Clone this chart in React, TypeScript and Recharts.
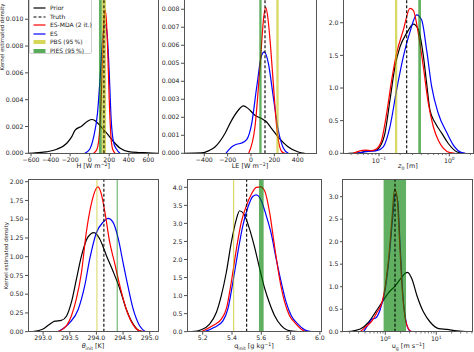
import { LineChart, Line, XAxis, YAxis, ReferenceArea, ReferenceLine } from 'recharts'

type XY = [number, number]
type Part = { t: string; sup?: boolean; sub?: boolean; it?: boolean }

// ---- H [W m-2]
const H_PRIOR: XY[] = [[-640, 0], [-576, 0.00002], [-450, 0.0001], [-336, 0.0003], [-234, 0.00075], [-183, 0.00124], [-149, 0.00172], [-80, 0.00204], [-29, 0.00236], [20, 0.00252], [56, 0.00243], [108, 0.00204], [176, 0.00149], [244, 0.00087], [313, 0.00037], [398, 0.00012], [500, 0.00006], [597, 0.00004], [700, 0]]
const H_MDA: XY[] = [[40, 0], [75, 0.0003], [105, 0.002], [125, 0.0055], [140, 0.009], [158, 0.0107], [172, 0.0098], [185, 0.0075], [200, 0.004], [215, 0.0015], [235, 0.0003], [260, 0]]
const H_ES: XY[] = [[-50, 0], [0, 0.0003], [40, 0.0012], [80, 0.003], [110, 0.006], [135, 0.0088], [160, 0.0096], [180, 0.0088], [200, 0.006], [220, 0.0025], [245, 0.0008], [275, 0.0003], [310, 0]]

// ---- LE [W m-2]
const LE_PRIOR: XY[] = [[-574, 0], [-423, 0.00002], [-360, 0.00015], [-309, 0.00035], [-223, 0.0011], [-166, 0.00183], [-109, 0.00239], [-66, 0.00263], [-23, 0.00248], [34, 0.00211], [91, 0.00193], [134, 0.00174], [177, 0.00137], [234, 0.0009], [320, 0.00035], [405, 0.00007], [460, 0]]
const LE_MDA: XY[] = [[-20, 0], [34, 0.00146], [77, 0.0048], [110, 0.0076], [126, 0.0081], [145, 0.0075], [163, 0.0063], [191, 0.0039], [220, 0.00146], [263, 0.0001], [290, 0]]
const LE_ES: XY[] = [[-215, 0], [-166, 0.00035], [-123, 0.0005], [-80, 0.00057], [-37, 0.00076], [6, 0.00165], [49, 0.00368], [91, 0.00544], [114, 0.00563], [149, 0.005], [191, 0.00313], [234, 0.00128], [277, 0.0003], [320, 0]]

// ---- z0 [m]
const Z0_PRIOR: XY[] = [[0.0366, 0], [0.0537, 0.005], [0.0668, 0.04], [0.0877, 0.04], [0.103, 0.1], [0.1216, 0.31], [0.1434, 0.82], [0.169, 1.33], [0.199, 1.63], [0.2477, 1.84], [0.3078, 1.98], [0.362, 1.9], [0.4266, 1.5], [0.476, 1.07], [0.531, 0.66], [0.626, 0.47], [0.78, 0.31], [0.968, 0.15], [1.27, 0.025], [1.58, 0]]
const Z0_MDA: XY[] = [[0.043, 0], [0.063, 0.05], [0.0787, 0.04], [0.0927, 0.07], [0.109, 0.2], [0.1285, 0.61], [0.1513, 1.12], [0.178, 1.53], [0.222, 1.89], [0.276, 2.22], [0.3078, 2.19], [0.362, 1.84], [0.4266, 1.33], [0.5025, 0.77], [0.591, 0.41], [0.697, 0.2], [0.82, 0.08], [1.02, 0.01], [1.2, 0]]
const Z0_ES: XY[] = [[0.048, 0], [0.0705, 0.03], [0.0927, 0.04], [0.115, 0.1], [0.1434, 0.41], [0.178, 0.97], [0.222, 1.48], [0.276, 1.86], [0.3433, 2.12], [0.4045, 2.04], [0.4764, 1.58], [0.5615, 1.02], [0.697, 0.61], [0.927, 0.31], [1.135, 0.13], [1.5, 0.01], [1.7, 0]]

// ---- theta_init [K]
const TH_PRIOR: XY[] = [[292.81, 0], [293.0, 0.035], [293.125, 0.1], [293.22, 0.14], [293.34, 0.15], [293.44, 0.21], [293.53, 0.39], [293.625, 0.7], [293.72, 1.01], [293.84, 1.26], [293.955, 1.32], [294.06, 1.24], [294.19, 1.01], [294.31, 0.81], [294.44, 0.57], [294.56, 0.3], [294.69, 0.1], [294.81, 0.01], [294.9, 0]]
const TH_MDA: XY[] = [[293.28, 0], [293.44, 0.08], [293.53, 0.21], [293.625, 0.44], [293.72, 0.79], [293.81, 1.32], [293.91, 1.72], [294.03, 1.93], [294.09, 1.84], [294.16, 1.59], [294.25, 1.19], [294.34, 0.92], [294.44, 0.61], [294.56, 0.3], [294.69, 0.09], [294.81, 0.01], [294.9, 0]]
const TH_ES: XY[] = [[293.28, 0], [293.5, 0.12], [293.66, 0.3], [293.78, 0.61], [293.875, 0.97], [294.0, 1.32], [294.125, 1.46], [294.22, 1.51], [294.31, 1.46], [294.41, 1.24], [294.5, 0.92], [294.59, 0.61], [294.69, 0.3], [294.81, 0.08], [294.92, 0]]

// ---- q_init [g kg-1]
const Q_PRIOR: XY[] = [[5.125, 0], [5.19, 0.055], [5.247, 0.21], [5.293, 0.53], [5.327, 1.0], [5.361, 1.64], [5.395, 2.47], [5.43, 3.12], [5.452, 3.35], [5.481, 3.26], [5.52, 2.84], [5.554, 2.34], [5.588, 1.76], [5.623, 1.2], [5.657, 0.78], [5.69, 0.45], [5.736, 0.17], [5.78, 0.04], [5.85, 0]]
const Q_MDA: XY[] = [[5.19, 0], [5.27, 0.17], [5.327, 0.35], [5.361, 0.63], [5.395, 1.37], [5.43, 2.29], [5.463, 3.03], [5.498, 3.49], [5.532, 3.81], [5.566, 4.0], [5.595, 4.01], [5.623, 3.9], [5.657, 3.3], [5.69, 2.38], [5.725, 1.46], [5.76, 0.81], [5.793, 0.44], [5.827, 0.26], [5.873, 0.07], [5.9, 0]]
const Q_ES: XY[] = [[5.213, 0], [5.28, 0.12], [5.338, 0.3], [5.372, 0.63], [5.406, 1.37], [5.44, 2.2], [5.474, 2.94], [5.508, 3.44], [5.543, 3.75], [5.566, 3.79], [5.6, 3.63], [5.634, 3.21], [5.668, 2.71], [5.702, 2.01], [5.736, 1.37], [5.77, 0.81], [5.805, 0.44], [5.85, 0.21], [5.896, 0.05], [5.94, 0]]

// ---- u_g [m s-1]
const UG_PRIOR: XY[] = [[0.1775, 0], [0.323, 0.06], [0.471, 0.21], [0.637, 0.43], [0.861, 0.65], [1.16, 0.87], [1.57, 1.02], [1.97, 1.17], [2.47, 1.3], [2.74, 1.32], [3.33, 1.17], [4.18, 0.8], [5.65, 0.43], [7.63, 0.21], [11.1, 0.07], [16.2, 0.05], [25.4, 0.02], [46, 0]]
const UG_MDA: XY[] = [[0.323, 0], [0.405, 0.1], [0.548, 0.24], [0.687, 0.43], [0.861, 0.65], [1.0, 1.02], [1.16, 1.62], [1.35, 2.5], [1.52, 3.17], [1.69, 3.02], [1.91, 1.98], [2.12, 1.02], [2.47, 0.28], [2.86, 0.06], [3.33, 0]]
const UG_ES: XY[] = [[0.376, 0], [0.471, 0.17], [0.548, 0.28], [0.637, 0.3], [0.798, 0.5], [1.0, 0.95], [1.2, 1.69], [1.39, 2.5], [1.57, 3.06], [1.75, 2.91], [1.97, 1.84], [2.22, 0.8], [2.58, 0.2], [3.0, 0.02], [3.3, 0]]

// truth value, PBS (95 %) and PIES (95 %) intervals per panel
const TRUTH = { H: 146, LE: 120, Z0: 0.2477, TH: 294.14, Q: 5.5, UG: 1.55 }
const PBS: Record<string, [number, number]> = { H: [123, 167], LE: [217, 237], Z0: [0.169, 0.182], TH: [294.0, 294.02], Q: [5.407, 5.415] }
const PIES: Record<string, [number, number]> = { H: [95, 123], LE: [71, 91], Z0: [0.362, 0.395], TH: [294.38, 294.4], Q: [5.584, 5.616], UG: [0.926, 2.55] }

const H_TICKS = [-600, -400, -200, 0, 200, 400, 600]
const LE_TICKS = [-400, -200, 0, 200, 400]
const Z0_TICKS = [0.04, 0.05, 0.06, 0.07, 0.08, 0.09, 0.1, 0.2, 0.3, 0.4, 0.5, 0.6, 0.7, 0.8, 0.9, 1, 2]
const TH_TICKS = [293.0, 293.5, 294.0, 294.5, 295.0]
const Q_TICKS = [5.2, 5.4, 5.6, 5.8, 6.0]
const UG_TICKS = [0.2, 0.3, 0.4, 0.5, 0.6, 0.7, 0.8, 0.9, 1, 2, 3, 4, 5, 6, 7, 8, 9, 10, 20, 30, 40, 50]

const FONT = 'DejaVu Sans, sans-serif'
const INK = '#222'
const FS = 6.2
const YEL = '#bfbf00'
const GRN = '#008000'
const YW = 34
const MT = 4
const MR = 16
const XH = 26

const toPts = (a: XY[]) => a.map(([x, y]) => ({ x, y }))
const minus = (v: number) => String(v).replace('-', '\u2212')

function Rich({ parts, x, y, size = 6.5, rotate }: { parts: Part[]; x: number; y: number; size?: number; rotate?: boolean }) {
  let shift = 0
  const spans = parts.map((p, i) => {
    const target = p.sup ? -size * 0.4 : p.sub ? size * 0.25 : 0
    const el = (
      <tspan key={i} dy={target - shift} fontSize={p.sup || p.sub ? size * 0.72 : size} fontStyle={p.it ? 'italic' : undefined}>
        {p.t}
      </tspan>
    )
    shift = target
    return el
  })
  return (
    <text x={x} y={y} textAnchor="middle" fill={INK} fontFamily={FONT} fontSize={size} transform={rotate ? `rotate(-90 ${x} ${y})` : undefined}>
      {spans}
    </text>
  )
}

function LogTick(props: any) {
  const { x, y, payload } = props
  const lg = Math.log10(payload.value)
  const e = Math.round(lg)
  const major = Math.abs(lg - e) < 1e-9
  return (
    <g>
      <line x1={x} x2={x} y1={y} y2={y + (major ? 3 : 1.8)} stroke={INK} strokeWidth={major ? 0.8 : 0.6} />
      {major && (
        <text x={x} y={y + 9.5} textAnchor="middle" fontSize={FS} fill={INK} fontFamily={FONT}>
          10
          <tspan dy={-2.6} fontSize={FS * 0.72}>{e < 0 ? `\u2212${-e}` : `${e}`}</tspan>
        </text>
      )}
    </g>
  )
}

type PanelProps = {
  box: [number, number, number, number]
  xDomain: [number, number]
  yDomain: [number, number]
  xTicks: number[]
  yTicks: number[]
  xFmt?: (v: number) => string
  yFmt: (v: number) => string
  log?: boolean
  prior: XY[]
  mda: XY[]
  es: XY[]
  truth: number
  pbs?: [number, number]
  pies?: [number, number]
  title: Part[]
  titleDy: number
  ylabel?: [number, number]
}

function Panel(p: PanelProps) {
  const [L, R, T, B] = p.box
  const w = R - L
  const h = B - T
  const W = YW + w + MR
  const H = MT + h + XH
  const ox = L - YW
  const oy = T - MT
  return (
    <div style={{ position: 'absolute', left: ox, top: oy, width: W, height: H }}>
      <LineChart width={W} height={H} margin={{ top: MT, right: MR, left: 0, bottom: 0 }}>
        <XAxis
          type="number"
          dataKey="x"
          domain={p.xDomain}
          allowDataOverflow
          scale={p.log ? 'log' : 'linear'}
          ticks={p.xTicks}
          interval={0}
          height={XH}
          axisLine={false}
          tick={p.log ? <LogTick /> : { fontSize: FS, fill: INK, fontFamily: FONT }}
          tickLine={p.log ? false : { stroke: INK, strokeWidth: 0.8 }}
          tickSize={p.log ? 0 : 3}
          tickMargin={p.log ? 0 : 1}
          tickFormatter={p.xFmt}
          label={() => <Rich parts={p.title} x={YW + w / 2} y={MT + h + p.titleDy} />}
        />
        <YAxis
          type="number"
          domain={p.yDomain}
          allowDataOverflow
          ticks={p.yTicks}
          interval={0}
          width={YW}
          axisLine={false}
          tick={{ fontSize: FS, fill: INK, fontFamily: FONT }}
          tickLine={{ stroke: INK, strokeWidth: 0.8 }}
          tickSize={3}
          tickMargin={1.5}
          tickFormatter={p.yFmt}
          label={
            p.ylabel
              ? () => <Rich parts={[{ t: 'Kernel estimated density' }]} x={p.ylabel![0] - ox} y={p.ylabel![1] - oy} size={5.4} rotate />
              : undefined
          }
        />
        <Line data={toPts(p.prior)} dataKey="y" type="monotone" stroke="#000" strokeWidth={1.2} dot={false} activeDot={false} isAnimationActive={false} />
        <Line data={toPts(p.es)} dataKey="y" type="monotone" stroke="#0000ff" strokeWidth={1.2} dot={false} activeDot={false} isAnimationActive={false} />
        <Line data={toPts(p.mda)} dataKey="y" type="monotone" stroke="#ff0000" strokeWidth={1.2} dot={false} activeDot={false} isAnimationActive={false} />
        {p.pbs && <ReferenceArea x1={p.pbs[0]} x2={p.pbs[1]} fill={YEL} fillOpacity={0.6} stroke="none" zIndex={450} />}
        {p.pies && <ReferenceArea x1={p.pies[0]} x2={p.pies[1]} fill={GRN} fillOpacity={0.62} stroke="none" zIndex={450} />}
        <ReferenceLine x={p.truth} stroke="#000" strokeWidth={1.1} strokeDasharray="3 2" zIndex={500} />
      </LineChart>
      <div
        style={{
          position: 'absolute',
          left: YW - 0.5,
          top: MT - 0.5,
          width: w + 1,
          height: h + 1,
          border: '1px solid #555',
          boxSizing: 'border-box',
          pointerEvents: 'none',
        }}
      />
    </div>
  )
}

const LEGEND = [
  { name: 'Prior', color: '#000', dash: undefined as string | undefined, sw: 1.2 },
  { name: 'Truth', color: '#000', dash: '3 2', sw: 1.2 },
  { name: 'ES-MDA (2 it.)', color: '#ff0000', dash: undefined, sw: 1.2 },
  { name: 'ES', color: '#0000ff', dash: undefined, sw: 1.2 },
  { name: 'PBS (95\u2009%)', color: '#d6d659', dash: undefined, sw: 4 },
  { name: 'PIES (95\u2009%)', color: '#59ac59', dash: undefined, sw: 4 },
]

const f3 = (v: number) => v.toFixed(3)
const f2 = (v: number) => v.toFixed(2)
const f1 = (v: number) => v.toFixed(1)

export default function App() {
  const top = -3
  const bot = 153.3
  const top2 = 179.3
  const bot2 = 332
  return (
    <div style={{ position: 'absolute', left: 0, top: 0, width: 474, height: 352, background: '#fff', overflow: 'hidden', fontFamily: FONT }}>
      <Panel box={[28, 158.5, top, bot]} xDomain={[-631, 704]} yDomain={[0, 0.01166]} xTicks={H_TICKS} yTicks={[0, 0.002, 0.004, 0.006, 0.008, 0.01]} xFmt={minus} yFmt={f3}
        prior={H_PRIOR} mda={H_MDA} es={H_ES} truth={TRUTH.H} pbs={PBS.H} pies={PIES.H}
        title={[{ t: 'H [W m' }, { t: '\u22122', sup: true }, { t: ']' }]} titleDy={15} ylabel={[3.8, 37]} />
      <Panel box={[184, 316, top, bot]} xDomain={[-574, 557]} yDomain={[0, 0.00868]} xTicks={LE_TICKS} yTicks={[0, 0.001, 0.002, 0.003, 0.004, 0.005, 0.006, 0.007, 0.008]} xFmt={minus} yFmt={f3}
        prior={LE_PRIOR} mda={LE_MDA} es={LE_ES} truth={TRUTH.LE} pbs={PBS.LE} pies={PIES.LE}
        title={[{ t: 'LE [W m' }, { t: '\u22122', sup: true }, { t: ']' }]} titleDy={15} />
      <Panel box={[343, 473, top, bot]} xDomain={[0.03076, 2.173]} yDomain={[0, 2.394]} xTicks={Z0_TICKS} yTicks={[0, 0.5, 1, 1.5, 2]} yFmt={f1} log
        prior={Z0_PRIOR} mda={Z0_MDA} es={Z0_ES} truth={TRUTH.Z0} pbs={PBS.Z0} pies={PIES.Z0}
        title={[{ t: 'z', it: true }, { t: '0', sub: true }, { t: ' [m]' }]} titleDy={15} />
      <Panel box={[28.3, 158.3, top2, bot2]} xDomain={[292.717, 295.155]} yDomain={[0, 2.036]} xTicks={TH_TICKS} yTicks={[0, 0.25, 0.5, 0.75, 1, 1.25, 1.5, 1.75, 2]} xFmt={f1} yFmt={f2}
        prior={TH_PRIOR} mda={TH_MDA} es={TH_ES} truth={TRUTH.TH} pbs={PBS.TH} pies={PIES.TH}
        title={[{ t: '\u03b8', it: true }, { t: 'init', sub: true }, { t: ' [K]' }]} titleDy={16.5} ylabel={[8, 256]} />
      <Panel box={[187, 321, top2, bot2]} xDomain={[5.0928, 6.0075]} yDomain={[0, 4.23]} xTicks={Q_TICKS} yTicks={[0, 0.5, 1, 1.5, 2, 2.5, 3, 3.5, 4]} xFmt={f1} yFmt={f1}
        prior={Q_PRIOR} mda={Q_MDA} es={Q_ES} truth={TRUTH.Q} pbs={PBS.Q} pies={PIES.Q}
        title={[{ t: 'q' }, { t: 'init', sub: true }, { t: ' [g kg' }, { t: '\u22121', sup: true }, { t: ']' }]} titleDy={16.5} />
      <Panel box={[342.7, 473, top2, bot2]} xDomain={[0.148, 53.2]} yDomain={[0, 3.393]} xTicks={UG_TICKS} yTicks={[0, 0.5, 1, 1.5, 2, 2.5, 3]} yFmt={f1} log
        prior={UG_PRIOR} mda={UG_MDA} es={UG_ES} truth={TRUTH.UG} pies={PIES.UG}
        title={[{ t: 'u' }, { t: 'g', sub: true }, { t: ' [m s' }, { t: '\u22121', sup: true }, { t: ']' }]} titleDy={16.5} />
      <div
        style={{
          position: 'absolute',
          left: 29,
          top: -3,
          width: 63,
          height: 57,
          border: '0.8px solid #d0d0d0',
          borderRadius: 2,
          background: 'rgba(255,255,255,0.85)',
          boxSizing: 'border-box',
        }}
      >
        {LEGEND.map((e, i) => (
          <div key={e.name} style={{ position: 'absolute', left: 3, top: 6 + i * 8.6, height: 8, display: 'flex', alignItems: 'center' }}>
            <svg width={13} height={6} style={{ display: 'block' }}>
              <line x1={0.5} x2={12.5} y1={3} y2={3} stroke={e.color} strokeWidth={e.sw} strokeDasharray={e.dash} />
            </svg>
            <span style={{ marginLeft: 4, fontSize: 6, color: INK, whiteSpace: 'nowrap', lineHeight: '8px' }}>{e.name}</span>
          </div>
        ))}
      </div>
    </div>
  )
}
